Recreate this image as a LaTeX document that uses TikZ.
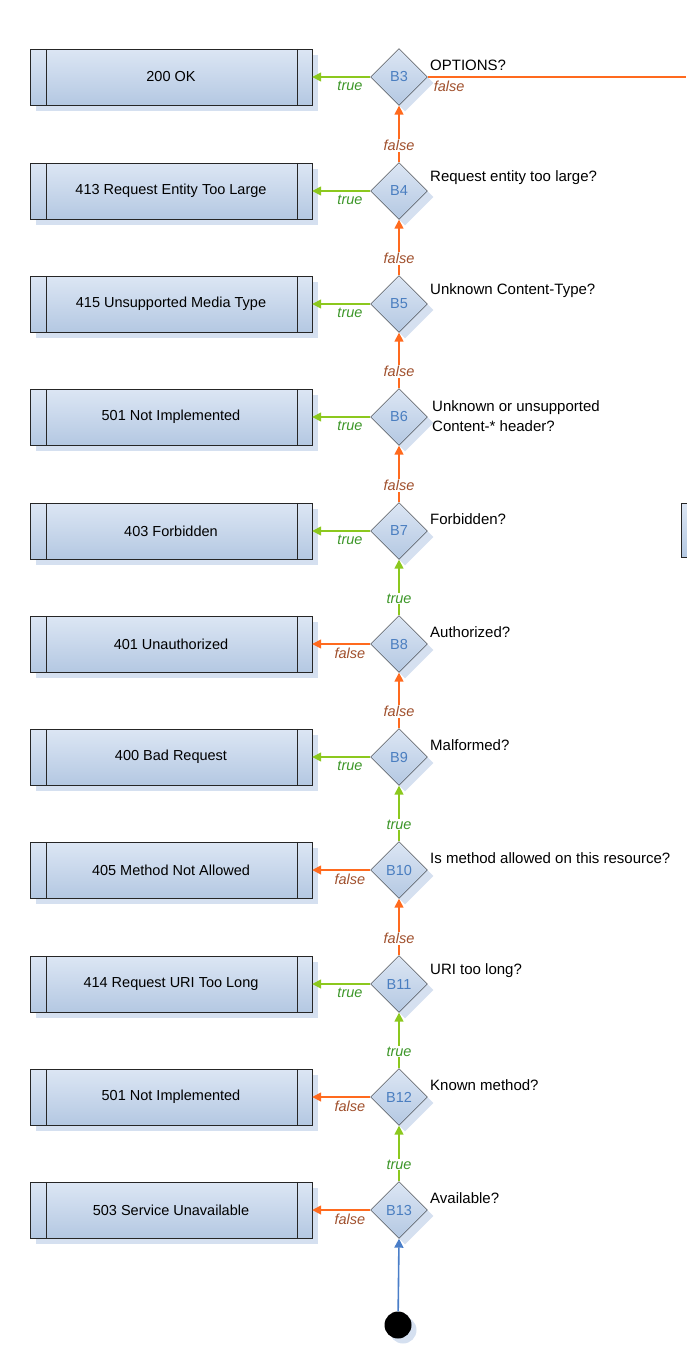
\documentclass[tikz,border=0pt]{standalone}
\usepackage{fontspec}
\setmainfont{Liberation Sans}
\usetikzlibrary{shapes.geometric,shadows,arrows.meta}
\definecolor{boxtop}{HTML}{DCE6F4}
\definecolor{boxbot}{HTML}{B4C8E2}
\definecolor{shadowblue}{HTML}{D5E0F0}
\definecolor{yesgreen}{HTML}{8CC81E}
\definecolor{yestext}{HTML}{3C9628}
\definecolor{noorange}{HTML}{FF6A1E}
\definecolor{notext}{HTML}{A0502D}
\definecolor{idblue}{HTML}{4A7EC0}
\definecolor{startblue}{HTML}{4A7EC8}
\tikzset{
  result/.style={rectangle, draw=black!85, top color=boxtop, bottom color=boxbot,
    minimum width=282pt, minimum height=56pt, font=\fontsize{14.5}{16}\selectfont,
    drop shadow={shadow xshift=6pt, shadow yshift=-6pt, fill=shadowblue, opacity=1}},
  decision/.style={diamond, draw=black!85, top color=boxtop, bottom color=boxbot,
    minimum width=57pt, minimum height=57pt, inner sep=0pt, text=idblue,
    font=\fontsize{14.5}{16}\selectfont,
    drop shadow={shadow xshift=6pt, shadow yshift=-6pt, fill=shadowblue, opacity=1}},
  question/.style={font=\fontsize{15}{20}\selectfont, align=left, inner sep=0pt},
  flow/.style={line width=1.6pt, -{Triangle[length=9pt,width=9pt]}},
  true/.style={flow, yesgreen},
  false/.style={flow, noorange},
  truelbl/.style={text=yestext, font=\itshape\fontsize{14.5}{16}\selectfont, inner sep=1pt},
  falselbl/.style={text=notext, font=\itshape\fontsize{14.5}{16}\selectfont, inner sep=1pt},
}
\begin{document}
\begin{tikzpicture}[x=1pt,y=-1pt]
  \useasboundingbox (0,0) rectangle (686,1366);

  % decisions with their result boxes
  \foreach \i/\y/\res/\out/\q in {
      3/77/200 OK/true/OPTIONS?,
      4/191/413 Request Entity Too Large/true/Request entity too large?,
      5/304/415 Unsupported Media Type/true/Unknown Content-Type?,
      6/417/501 Not Implemented/true/{Unknown or unsupported\\Content-* header?},
      7/531/403 Forbidden/true/Forbidden?,
      8/644/401 Unauthorized/false/Authorized?,
      9/757/400 Bad Request/true/Malformed?,
      10/870/405 Method Not Allowed/false/Is method allowed on this resource?,
      11/984/414 Request URI Too Long/true/URI too long?,
      12/1097/501 Not Implemented/false/Known method?,
      13/1210/503 Service Unavailable/false/Available?} {
    \node[decision] (B\i) at (399,\y) {B\i};
    \node[result] (R\i) at (171,\y) {\res};
    \draw[black!85] ([xshift=16pt]R\i.north west) -- ([xshift=16pt]R\i.south west);
    \draw[black!85] ([xshift=-15pt]R\i.north east) -- ([xshift=-15pt]R\i.south east);
    \draw[\out] (B\i.west) -- (R\i.east) node[\out lbl, pos=0.35, below=2pt] {\out};
    \ifnum\i=6
      \node[question, anchor=west] (Q\i) at (432,\y-1) {\q};
    \else
      \node[question, anchor=south west] (Q\i) at (430,\y-6) {\q};
    \fi
  }

  % upward flow between decisions
  \foreach \a/\b/\out in {4/3/false, 5/4/false, 6/5/false, 7/6/false, 8/7/true,
      9/8/false, 10/9/true, 11/10/false, 12/11/true, 13/12/true} {
    \draw[\out] (B\a.north) -- (B\b.south)
      node[\out lbl, fill=white, pos=0.3] {\out};
  }

  % B3 false exit and the box it leads to
  \coordinate (exit3) at (686,77);
  \draw[line width=1.6pt, noorange] (B3.east) -- (exit3);
  \node[falselbl, anchor=north west] at ([xshift=5pt,yshift=-3pt]B3.east) {false};
  \draw[black!85, top color=boxtop, bottom color=boxbot] (681,503) rectangle (700,557);

  % start
  \node[circle, fill=black, minimum size=27pt, inner sep=0pt,
    drop shadow={shadow xshift=5pt, shadow yshift=-5pt, fill=shadowblue, opacity=1}]
    (start) at (398,1325) {};
  \draw[flow, startblue] (start) -- (B13.south);
\end{tikzpicture}
\end{document}
